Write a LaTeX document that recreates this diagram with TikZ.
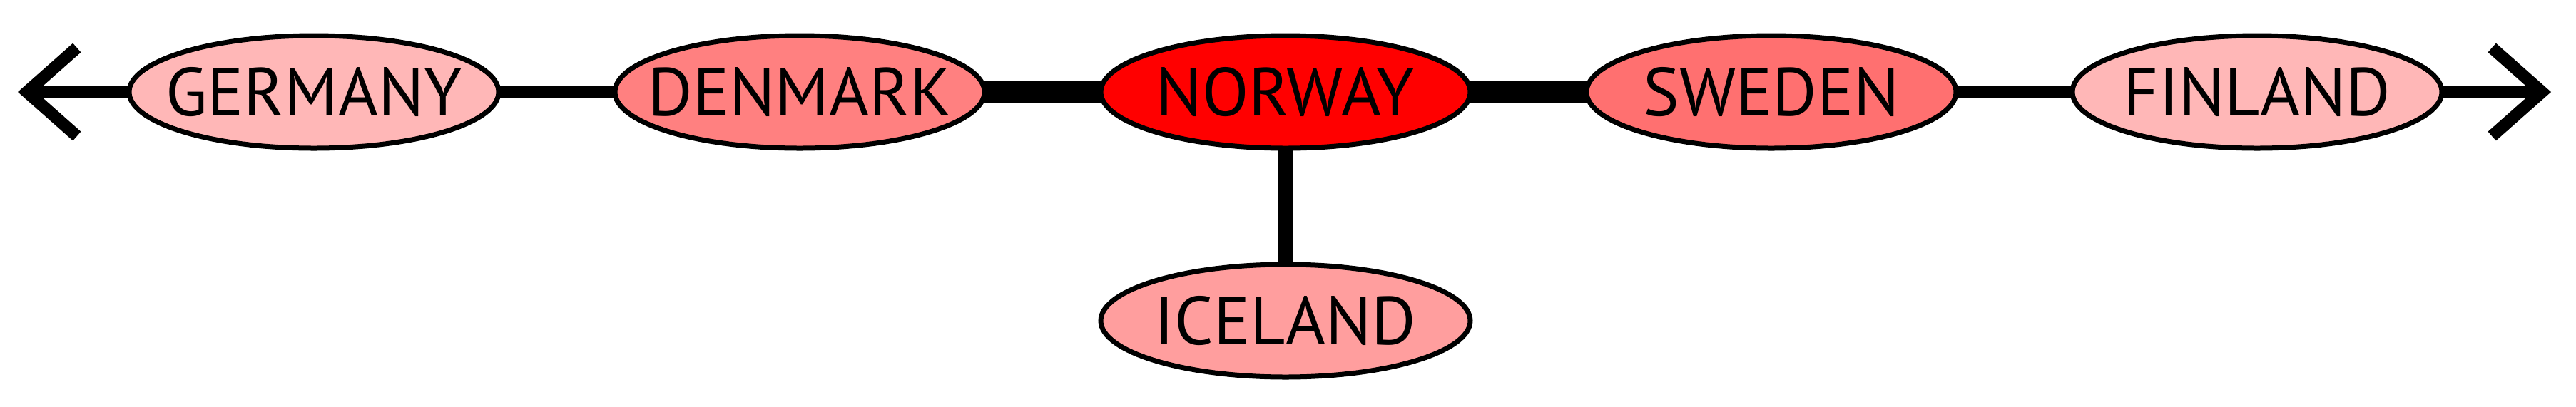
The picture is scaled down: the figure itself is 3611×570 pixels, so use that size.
\documentclass[tikz,border=0pt]{standalone}
\usepackage{fontspec}
\setmainfont{PT Sans}
\usepackage{tikz}
\usetikzlibrary{shapes.geometric,positioning,arrows.meta,backgrounds}

\definecolor{palered}{RGB}{255,183,183}
\definecolor{softred}{RGB}{255,158,158}
\definecolor{midred}{RGB}{255,128,128}
\definecolor{deepred}{RGB}{255,112,112}

\begin{document}
\begin{tikzpicture}[x=0.1mm,y=-0.1mm,node distance=15.6mm,
		country/.style={ellipse,draw,line width=0.7mm,minimum width=51.8mm,minimum height=15.8mm,inner xsep=-8mm,inner ysep=0pt,font=\fontsize{27.2}{30}\selectfont},
		thinlink/.style={line width=1.7mm},
		thicklink/.style={line width=3mm},
		barb/.style={-{Straight Barb[length=7mm,width=12.4mm]}}]
		\useasboundingbox (0,0) rectangle (3611,570);
		
		\node[country,fill=palered] (ger) at (440,129) {GERMANY};
		\node[country,fill=midred,right=of ger] (den) {DENMARK};
		\node[country,fill=red,right=of den] (nor) {NORWAY};
		\node[country,fill=deepred,right=of nor] (swe) {SWEDEN};
		\node[country,fill=palered,right=of swe] (fin) {FINLAND};
		\node[country,fill=softred,below=of nor] (ice) {ICELAND};
		
		\coordinate (west) at (25,129);
		\coordinate (east) at (3576,129);
		
		\begin{scope}[on background layer]
			\draw[thinlink,barb] (ger.center) -- (west);
			\draw[thinlink] (ger.center) -- (den.center);
			\draw[thicklink] (den.center) -- (nor.center);
			\draw[thicklink] (nor.center) -- (swe.center);
			\draw[thinlink] (swe.center) -- (fin.center);
			\draw[thinlink,barb] (fin.center) -- (east);
			\draw[line width=2.1mm] (nor.center) -- (ice.center);
		\end{scope}
		
	\end{tikzpicture}
\end{document}
